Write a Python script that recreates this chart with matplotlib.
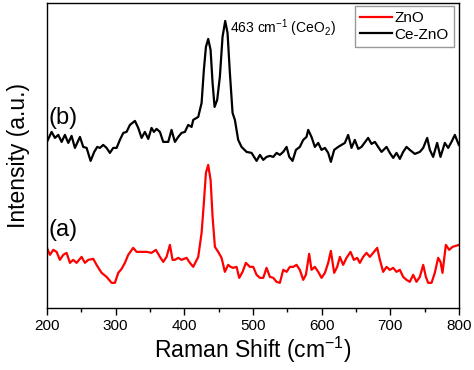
import numpy as np
import matplotlib
matplotlib.use("Agg")
import matplotlib.pyplot as plt
from matplotlib.ticker import MultipleLocator

plt.rcParams['font.family'] = ['Liberation Sans', 'DejaVu Sans']
plt.rcParams['mathtext.fontset'] = 'custom'
plt.rcParams['mathtext.rm'] = 'Liberation Sans'
plt.rcParams['mathtext.default'] = 'regular'

# Ce-ZnO (b)
shift_b = [200, 206.8, 211.7, 216.5, 221.4, 226.2, 231.1, 235.9, 240.8, 248.1, 252.9, 257.8,
           263.6, 268.9, 273.3, 277.2, 282.0, 286.9, 291.7, 296.6, 301.5, 306.3, 311.2, 316.0,
           320.9, 328.2, 333.0, 337.9, 342.7, 347.6, 352.4, 355.8, 359.7, 364.6, 369.4, 376.7,
           381.5, 386.4, 391.3, 396.1, 401.0, 405.8, 410.7, 413.1, 420.4, 425.3, 428.6, 431.6,
           434.9, 438.4, 441.3, 444.2, 448.0, 451.9, 455.8, 459.7, 463.1, 466.5, 470.4, 473.8,
           478.6, 483.5, 490.8, 498.1,
           505.4, 510.3, 515.1, 519.9, 524.8, 529.7, 534.5, 539.3, 544.2, 549.1, 553.0, 557.8,
           562.7, 568.4, 573.3, 578.1, 580.6, 585.4, 590.3, 595.2, 600.0, 604.9, 609.7, 613.6,
           618.4, 624.3, 629.1, 634.0, 638.8, 643.7, 648.5, 653.4, 658.2, 667.9, 672.8, 677.7,
           682.5, 687.4, 694.7, 699.5, 704.4, 709.2, 714.1, 718.9, 723.8, 728.6, 735.9, 743.2,
           748.1, 753.9, 757.8, 762.6, 768.4, 773.3, 779.6, 784.5, 789.3, 794.2, 800.0]
int_b = [166, 176, 170, 173, 166, 173, 165, 172, 160, 171, 161, 160,
         147, 156, 161, 160, 163, 160, 155, 160, 160, 168, 175, 176,
         183, 187, 180, 170, 176, 169, 180, 176, 179, 176, 166, 166,
         178, 166, 171, 175, 176, 183, 181, 188, 191, 205, 238, 261,
         269, 258, 225, 201, 208, 231, 271, 287, 275, 235, 195, 188,
         168, 161, 156, 155,
         147, 153, 148, 151, 152, 151, 155, 153, 156, 161, 151, 147,
         158, 161, 168, 171, 178, 171, 161, 165, 158, 160, 155, 146,
         158, 161, 163, 165, 173, 160, 168, 159, 161, 170, 164, 166,
         161, 156, 161, 155, 150, 155, 149, 156, 161, 158, 154, 156,
         160, 170, 158, 151, 165, 151, 165, 160, 166, 173, 163]

# ZnO (a)
shift_a = [200, 204.4, 209.2, 214.1, 218.9, 223.8, 228.6, 233.5, 238.3, 243.2, 250.5, 255.3,
           260.2, 267.5, 272.3, 279.6, 286.9, 294.2, 299.0, 303.9, 308.8, 313.6, 318.4, 325.7,
           330.6, 337.9, 345.1, 352.4, 358.7, 364.6, 369.4, 374.3, 379.1, 383.0, 386.4, 391.3,
           396.1, 403.4, 408.3, 413.1, 420.4, 425.3, 428.6, 431.6, 434.9, 438.4, 441.3, 444.7,
           449.5, 454.4, 459.2, 464.0, 467.5, 471.4, 476.2, 480.1, 485.0, 489.8, 495.6, 500.5, 505.4,
           510.3, 515.1, 519.9, 524.8, 529.7, 534.5, 539.3, 544.2, 549.1, 553.9, 558.8, 563.6,
           568.4, 573.3, 577.2, 582.0, 585.4, 590.3, 595.2, 600.0, 604.9, 609.7, 613.6, 618.4,
           622.8, 626.7, 631.5, 636.4, 642.2, 647.1, 651.9, 655.8, 660.7, 665.5, 670.4, 675.2,
           681.1, 685.0, 689.8, 694.7, 699.5, 704.4, 709.2, 714.1, 718.9, 723.8, 728.6, 733.5,
           738.3, 743.2, 748.1, 752.0, 755.3, 760.2, 765.0, 769.9, 773.3, 776.2, 781.1, 785.9,
           790.8, 795.6, 800.0]
int_a = [60, 53, 58, 56, 48, 53, 55, 45, 48, 45, 51, 45,
         48, 49, 43, 35, 31, 25, 25, 35, 39, 45, 53, 60,
         56, 56, 56, 55, 58, 51, 46, 51, 63, 48, 48, 50,
         48, 50, 45, 41, 51, 75, 105, 135, 143, 128, 91, 61,
         56, 50, 36, 43, 41, 40, 41, 30, 36, 45, 41, 41, 33,
         30, 30, 40, 31, 30, 26, 25, 38, 36, 41, 41, 43,
         38, 28, 33, 54, 38, 41, 36, 30, 35, 45, 57, 35,
         41, 51, 43, 50, 56, 48, 50, 45, 51, 55, 51, 55,
         60, 48, 36, 41, 38, 40, 36, 38, 31, 28, 26, 33,
         26, 31, 43, 31, 25, 25, 35, 50, 46, 35, 63, 58,
         61, 62, 63]

fig = plt.figure(figsize=(4.74, 3.70), dpi=100)
ax = fig.add_axes([0.099, 0.168, 0.869, 0.824])

ax.plot(shift_a, int_a, color='#ff0000', lw=1.6, label='ZnO')
ax.plot(shift_b, int_b, color='black', lw=1.6, label='Ce-ZnO')

ax.set_xlim(200, 800)
ax.set_ylim(0, 305)
ax.set_yticks([])
ax.xaxis.set_major_locator(MultipleLocator(100))
ax.xaxis.set_minor_locator(MultipleLocator(50))
ax.tick_params(axis='x', which='major', length=5, width=1, labelsize=11, pad=3)
ax.tick_params(axis='x', which='minor', length=3, width=1)
for s in ax.spines.values():
    s.set_linewidth(1)

ax.set_xlabel('Raman Shift (cm$^{-1}$)', fontsize=16.5, labelpad=1)
ax.set_ylabel('Intensity (a.u.)', fontsize=16.5, labelpad=12)

ax.text(203, 190, '(b)', fontsize=17, va='center')
ax.text(203, 78, '(a)', fontsize=17, va='center')
ax.text(466, 280, '463 cm$^{-1}$ (CeO$_2$)', fontsize=10, va='center')

leg = ax.legend(loc='upper right', fontsize=11, frameon=True, fancybox=False,
                handlelength=2.1, handletextpad=0.15, borderpad=0.35, labelspacing=0.15,
                borderaxespad=0, bbox_to_anchor=(0.988, 0.99))
leg.get_frame().set_edgecolor('#808080')
leg.get_frame().set_linewidth(1)

fig.savefig('out.png', dpi=100)
